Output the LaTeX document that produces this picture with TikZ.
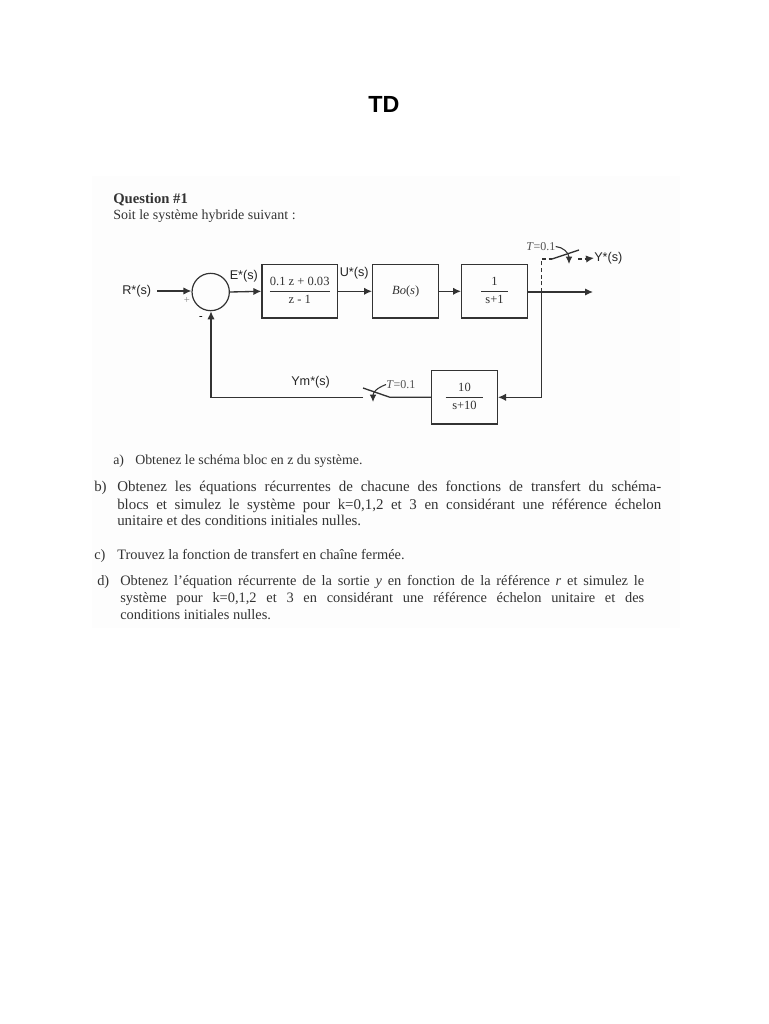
\documentclass[tikz,border=0pt]{standalone}
\usepackage{fontspec}
\setmainfont{Liberation Serif}
\newfontfamily\arialf{Liberation Sans}
\usetikzlibrary{arrows.meta}
\definecolor{ink}{gray}{0.2}
\definecolor{scan}{gray}{0.993}
\newcommand{\frc}[3]{{\setlength{\tabcolsep}{#3}\renewcommand{\arraystretch}{1.2}\begin{tabular}{c}#1\\\hline #2\end{tabular}}}
\newcommand{\js}[2]{\makebox[#1][s]{#2}}
\tikzset{
  x=0.75pt,y=-0.75pt,
  wire/.style={draw=ink,line width=1pt},
  sig/.style={wire,-{Latex[length=6pt,width=5.5pt]}},
  sw/.style={draw=ink,line width=0.8pt},
  dashw/.style={wire,dash pattern=on 3pt off 2pt},
  blockbox/.style={draw=ink,line width=1.05pt,inner sep=0pt,text=ink,font=\fontsize{9.4}{10.5}\selectfont,align=center},
  sanslab/.style={inner sep=0pt,text=black!85,font=\arialf\fontsize{9.5}{10}\selectfont},
  serlab/.style={inner sep=0pt,text=ink!85,font=\fontsize{9}{10}\selectfont},
  line/.style={anchor=base west,inner sep=0pt,text=ink,font=\fontsize{10.8}{12}\selectfont},
  lineb/.style={line,font=\fontsize{11.2}{12}\selectfont},
  linesm/.style={line,font=\fontsize{10.4}{12}\selectfont},
}
\begin{document}
\begin{tikzpicture}
\useasboundingbox (0,0) rectangle (768,1024);
\fill[white] (0,0) rectangle (768,1024);
\fill[scan] (92,176) rectangle (680,628);
\node[inner sep=0pt,font=\arialf\bfseries\fontsize{17.5}{20}\selectfont] (title) at (384,104) {TD};
\node[line,font=\bfseries\fontsize{11}{12}\selectfont] (q) at (113,203) {Question \#1};
\node[line,font=\fontsize{10.5}{12}\selectfont] (soit) at (113,219) {Soit le système hybride suivant :};
% blocks
\node[draw=ink,line width=0.9pt,circle,minimum size=28pt,inner sep=0pt] (sum) at (210.7,292) {};
\node[blockbox,minimum width=56.5pt,minimum height=40pt] (b1) at (299.7,291.3) {\frc{0.1 z + 0.03}{z - 1}{0pt}};
\node[blockbox,minimum width=49.5pt,minimum height=40pt] (b2) at (405.7,291.3) {\textit{Bo}(\textit{s})};
\node[blockbox,minimum width=49.2pt,minimum height=40pt] (b3) at (494.5,291.3) {\frc{1}{s+1}{3pt}};
\node[blockbox,minimum width=49.2pt,minimum height=40pt] (b4) at (464.5,397.3) {\frc{10}{s+10}{5pt}};
% coordinates
\coordinate (rin) at (157,291);
\coordinate (junc) at (541.7,292);
\coordinate (out) at (593,292);
\coordinate (jd) at (541.7,397.3);
\coordinate (fbc) at (211,397.3);
\coordinate (sw1a) at (363,397.3);
\coordinate (sw1b) at (390,397.3);
\coordinate (sw1c) at (363,388);
\coordinate (up) at (541.7,259);
\coordinate (up2) at (552,259);
\coordinate (sw2) at (579,250);
\coordinate (ystart) at (578,259);
\coordinate (ymid) at (586,259);
\node[sanslab,anchor=west] (ylab) at (594,258) {Y*(s)};
% connectors
\draw[sig] (rin) -- (sum.west|-rin);
\draw[sig] (sum.east) -- (b1.west);
\draw[sig] (b1.east) -- (b2.west);
\draw[sig] (b2.east) -- (b3.west);
\draw[sig] (junc-|b3.east) -- (out);
\draw[sig] (junc) -- (jd) -- (b4.east);
\draw[wire] (b4.west) -- (sw1b) -- (sw1c);
\draw[sig] (sw1a) -- (fbc) -- (sum.south-|fbc);
\draw[dashw] (junc) -- (up) -- (up2);
\draw[wire] (up2) -- (sw2);
\draw[dashw] (ystart) -- (ymid);
\draw[sig] (ymid) -- (ylab.west);
% samplers
\node[serlab,anchor=west] (t1) at (386,384.5) {\textit{T}=0.1};
\draw[sw,-{Latex[length=5.5pt,width=5pt]}] (t1.west) .. controls (377,388) and (373,392) .. (373,402);
\node[serlab,anchor=west] (t2) at (526,246.5) {\textit{T}=0.1};
\draw[sw,-{Latex[length=5.5pt,width=5pt]}] (t2.east) .. controls (563,247) and (569,253) .. (569,264);
% labels
\node[sanslab,anchor=base west] (r) at (122,294) {R*(s)};
\node[sanslab,anchor=base west] (e) at (229.5,279) {E*(s)};
\node[sanslab,anchor=base west] (u) at (339.5,276.5) {U*(s)};
\node[sanslab,anchor=base west] (ym) at (291,385) {Ym*(s)};
\node[inner sep=0pt,text=gray,font=\fontsize{8}{8}\selectfont] (plus) at (187,300) {+};
\node[inner sep=0pt,font=\bfseries\fontsize{8}{8}\selectfont] (minus) at (201,318) {-};
% questions
\node[linesm] (la) at (113,464) {a)};
\node[linesm] (ta) at (135,464) {Obtenez le schéma bloc en z du système.};
\node[lineb] (lb) at (94,491) {b)};
\node[lineb] (tb1) at (117,491) {\js{408pt}{Obtenez les équations récurrentes de chacune des fonctions de transfert du schéma-}};
\node[lineb] (tb2) at (117,509) {\js{408pt}{blocs et simulez le système pour k=0,1,2 et 3 en considérant une référence échelon}};
\node[lineb] (tb3) at (117,525) {unitaire et des conditions initiales nulles.};
\node[line] (lc) at (94,559) {c)};
\node[line] (tc) at (117,559) {Trouvez la fonction de transfert en chaîne fermée.};
\node[line] (ld) at (97,585) {d)};
\node[line] (td1) at (120,585) {\js{393pt}{Obtenez l’équation récurrente de la sortie \textit{y} en fonction de la référence \textit{r} et simulez le}};
\node[line] (td2) at (120,602) {\js{393pt}{système pour k=0,1,2 et 3 en considérant une référence échelon unitaire et des}};
\node[line] (td3) at (120,619) {conditions initiales nulles.};
\end{tikzpicture}
\end{document}
